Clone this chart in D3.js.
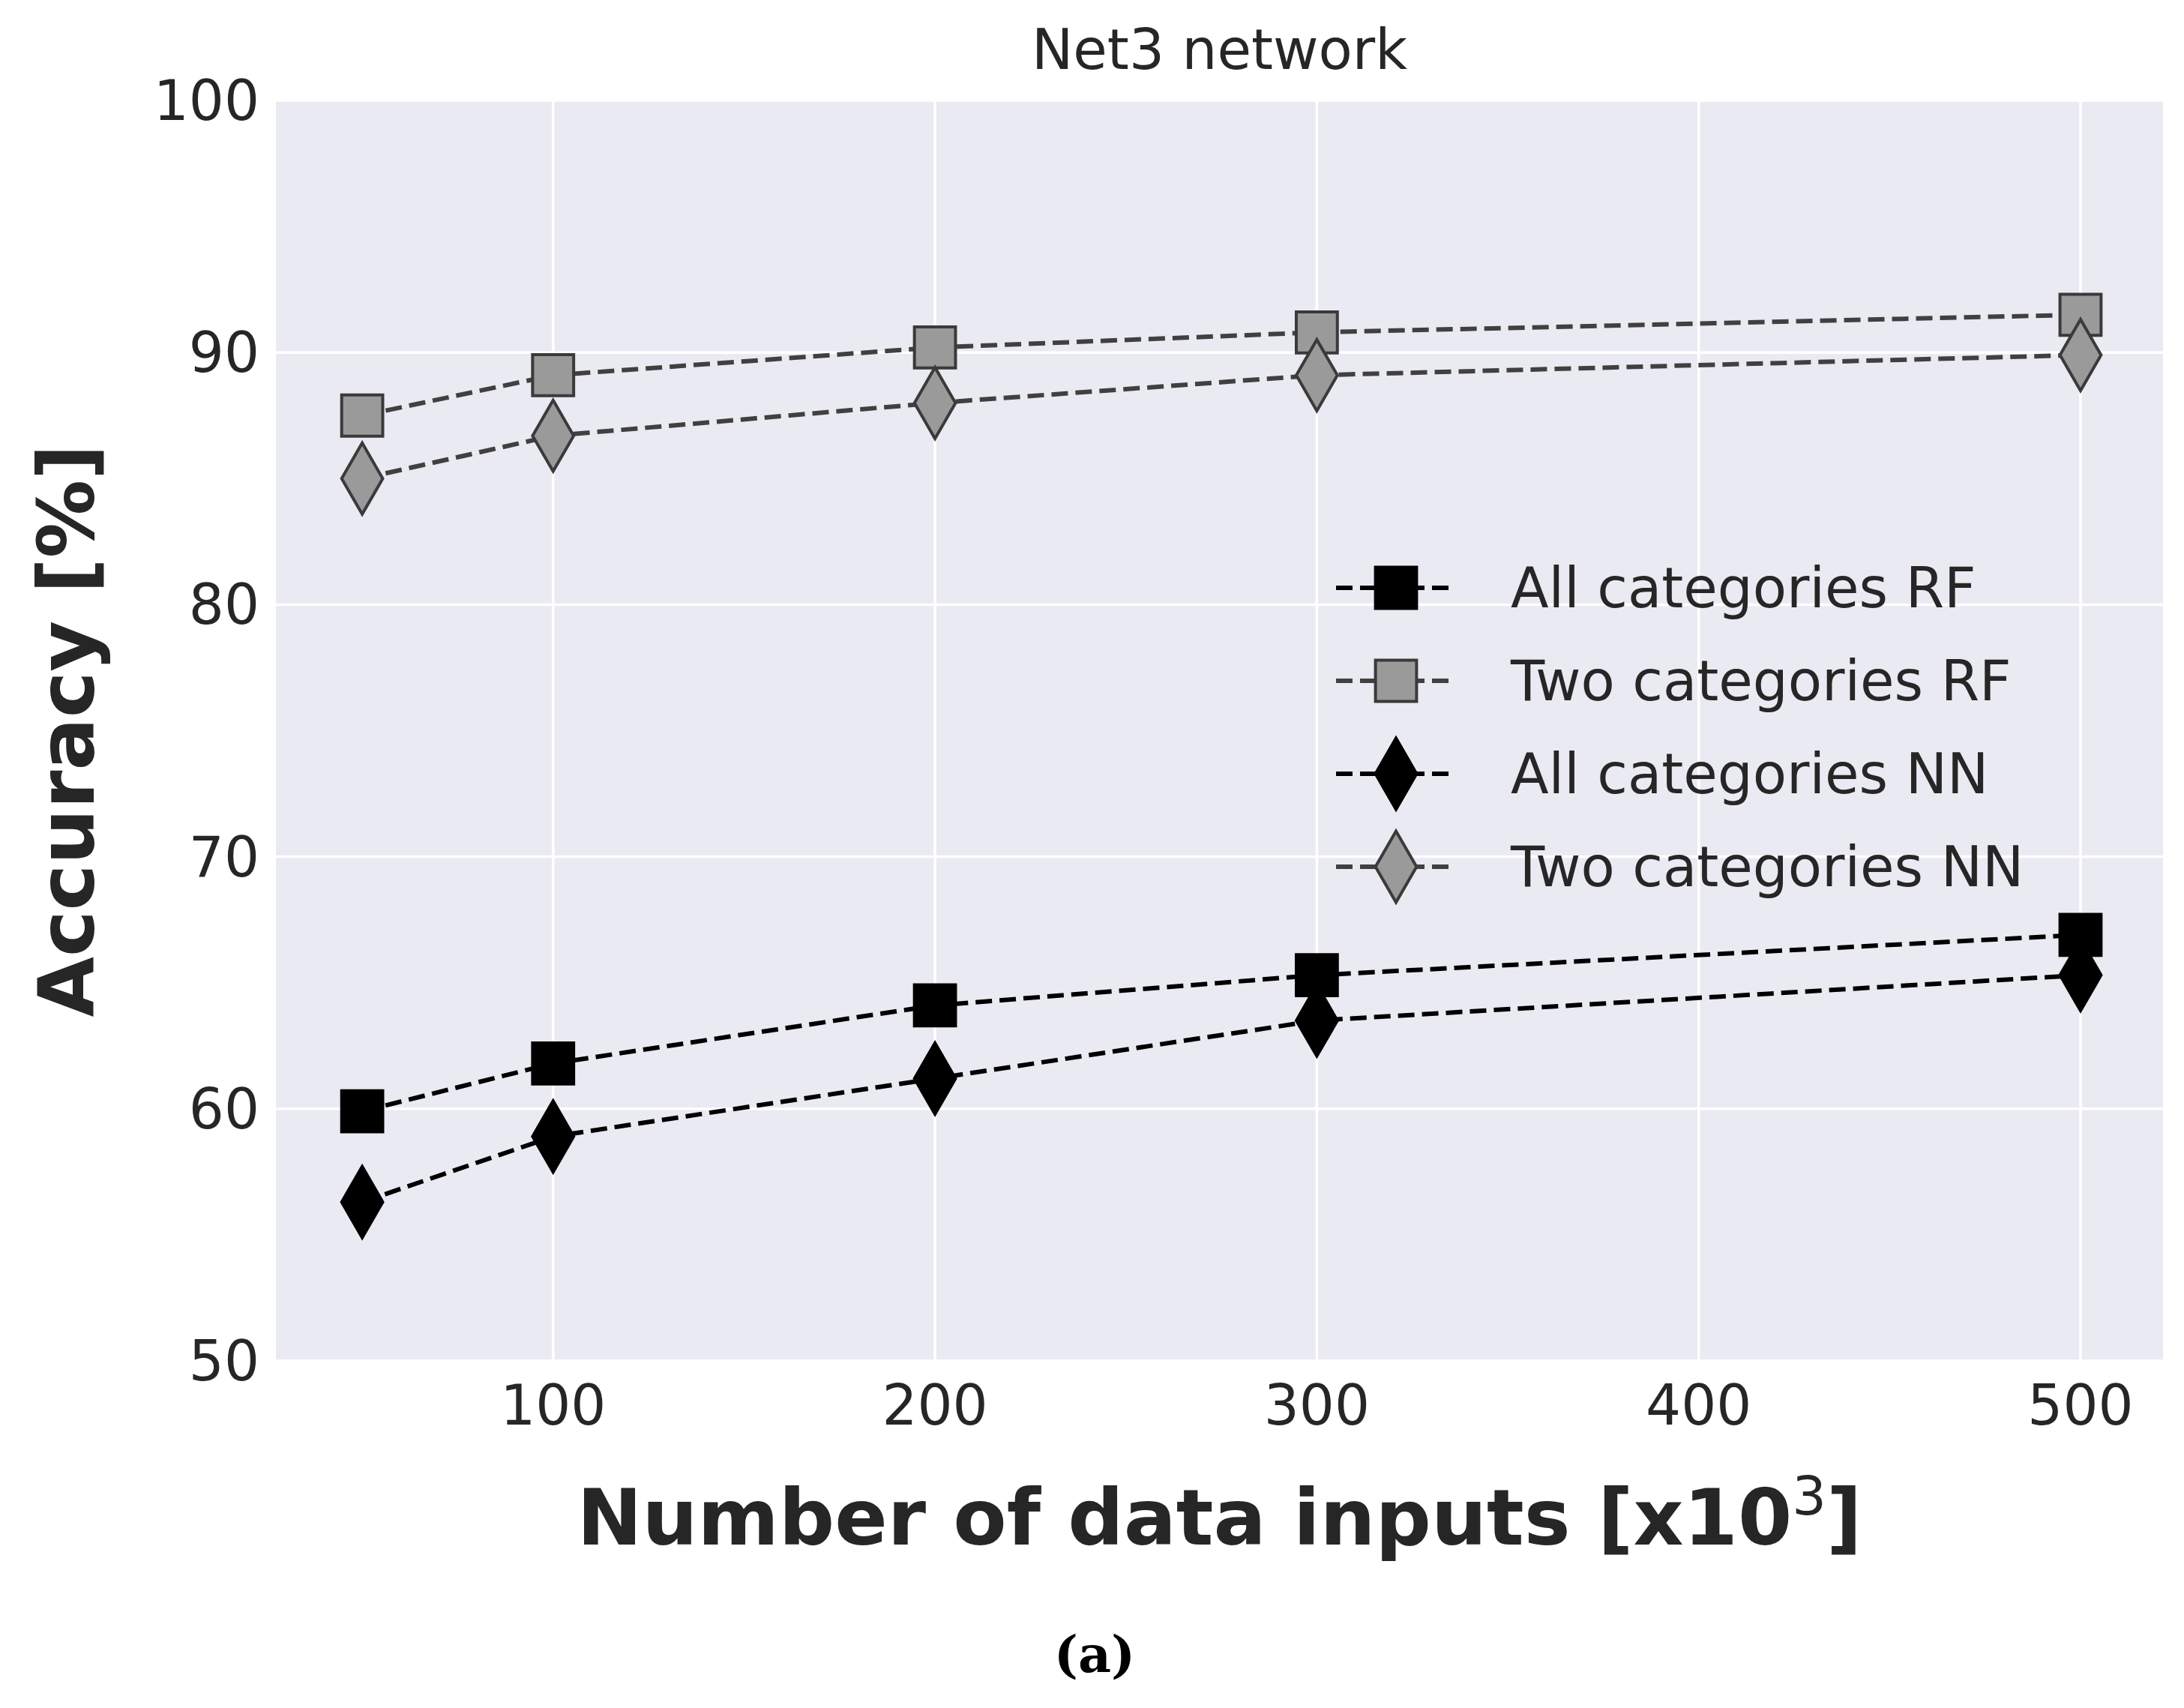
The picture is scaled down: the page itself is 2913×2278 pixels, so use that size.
<!DOCTYPE html>
<html><head><meta charset="utf-8">
<script src="https://cdn.jsdelivr.net/npm/d3@7"></script>
<style>body{margin:0;background:#fff}</style></head>
<body><svg id="c" width="2913" height="2278"></svg>
<script>
const xs=[50,100,200,300,500];
const allRF=[59.9,61.8,64.1,65.3,66.9];
const twoRF=[87.5,89.1,90.2,90.8,91.5];
const allNN=[56.3,58.9,61.2,63.5,65.3];
const twoNN=[85.0,86.7,88.0,89.1,89.9];
const xTicks=[100,200,300,400,500];
const yTicks=[50,60,70,80,90,100];
const names=["All categories RF","Two categories RF","All categories NN","Two categories NN"];
const series=[
 {name:names[0],v:allRF,sym:"square",fill:"#000",stroke:"#000",line:"#000"},
 {name:names[1],v:twoRF,sym:"square",fill:"#9a9a9a",stroke:"#3a3a3a",line:"#404040"},
 {name:names[2],v:allNN,sym:"diamond",fill:"#000",stroke:"#000",line:"#000"},
 {name:names[3],v:twoNN,sym:"diamond",fill:"#9a9a9a",stroke:"#3a3a3a",line:"#404040"}];
const L=368,R=2885,T=134,B=1815;
const svg=d3.select("#c");
const x=d3.scaleLinear().domain([27.4,521.6]).range([L,R]);
const y=d3.scaleLinear().domain([50,100]).range([B,T]);
svg.append("rect").attr("x",L).attr("y",T).attr("width",R-L).attr("height",B-T).attr("fill","#eaeaf2");
const g=svg.append("g");
xTicks.forEach(t=>g.append("line").attr("x1",x(t)).attr("x2",x(t)).attr("y1",T).attr("y2",B).attr("stroke","#fff").attr("stroke-width",3.5));
yTicks.forEach(t=>g.append("line").attr("x1",L).attr("x2",R).attr("y1",y(t)).attr("y2",y(t)).attr("stroke","#fff").attr("stroke-width",3.5));
const fam="'DejaVu Sans',sans-serif";
xTicks.forEach(t=>svg.append("text").attr("x",x(t)).attr("y",B+85).attr("text-anchor","middle").attr("font-family",fam).attr("font-size",74).attr("fill","#262626").text(t));
yTicks.forEach(t=>svg.append("text").attr("x",L-22).attr("y",y(t)+26).attr("text-anchor","end").attr("font-family",fam).attr("font-size",74).attr("fill","#262626").text(t));
svg.append("text").attr("x",(L+R)/2).attr("y",92).attr("text-anchor","middle").attr("font-family",fam).attr("font-size",74).attr("fill","#262626").text("Net3 network");
const xl=svg.append("text").attr("x",(L+R)/2).attr("y",2060).attr("text-anchor","middle").attr("font-family",fam).attr("font-size",104).attr("font-weight","bold").attr("fill","#262626");
xl.append("tspan").text("Number of data inputs [x10");
xl.append("tspan").attr("dy",-40).attr("font-size",72).attr("font-weight","normal").text("3");
xl.append("tspan").attr("dy",40).text("]");
svg.append("text").attr("transform",`translate(125,${(T+B)/2}) rotate(-90)`).attr("text-anchor","middle").attr("font-family",fam).attr("font-size",104).attr("font-weight","bold").attr("fill","#262626").text("Accuracy [%]");
svg.append("text").attr("x",1460).attr("y",2230).attr("text-anchor","middle").attr("font-family","'DejaVu Serif',serif").attr("font-size",68).attr("font-weight","bold").attr("fill","#000").text("(a)");
const symSq=d3.symbol().type(d3.symbolSquare).size(3000);
const symDi=d3.symbol().type(d3.symbolDiamond).size(2600);
const line=d3.line().x((d,i)=>x(xs[i])).y(d=>y(d));
series.forEach(s=>{
 svg.append("path").attr("d",line(s.v)).attr("fill","none").attr("stroke",s.line).attr("stroke-width",6).attr("stroke-dasharray","22,10");
 s.v.forEach((v,i)=>svg.append("path").attr("d",(s.sym=="square"?symSq:symDi)()).attr("transform",`translate(${x(xs[i])},${y(v)})`).attr("fill",s.fill).attr("stroke",s.stroke).attr("stroke-width",4));
});
series.forEach((s,i)=>{
 const yy=784+i*124, mx=1862;
 svg.append("line").attr("x1",mx-80).attr("x2",mx+80).attr("y1",yy).attr("y2",yy).attr("stroke",s.line).attr("stroke-width",6).attr("stroke-dasharray","22,10");
 svg.append("path").attr("d",(s.sym=="square"?symSq:symDi)()).attr("transform",`translate(${mx},${yy})`).attr("fill",s.fill).attr("stroke",s.stroke).attr("stroke-width",4);
 svg.append("text").attr("x",2015).attr("y",yy+26).attr("font-family",fam).attr("font-size",74).attr("fill","#262626").text(s.name);
});
</script></body></html>
